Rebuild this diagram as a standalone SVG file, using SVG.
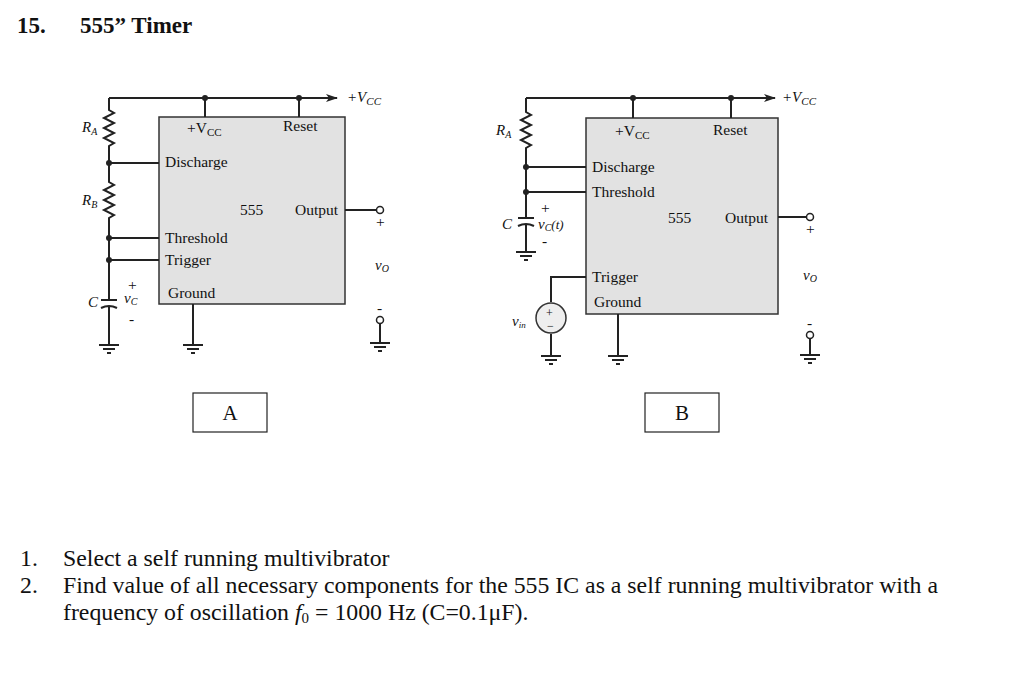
<svg xmlns="http://www.w3.org/2000/svg" width="1024" height="691" viewBox="0 0 1024 691">
<style>
text{font-family:"Liberation Serif",serif;fill:#111}
.w{stroke:#222;stroke-width:2;fill:none}
.box{fill:#e2e2e2;stroke:#333;stroke-width:1.5}
.l{font-size:15.5px}
.i{font-style:italic;font-size:15px}
.t{font-size:23.8px}
</style>
<defs>
<marker id="ar" markerWidth="12" markerHeight="8" refX="11" refY="4" orient="auto" markerUnits="userSpaceOnUse"><path d="M0,0L12,4L0,8L3,4z" fill="#222"/></marker>
<g id="gnd"><path class="w" d="M-10,0H10M-6,4H6M-2,8H2"/></g>
</defs>
<rect width="1024" height="691" fill="#fff"/>
<text x="17" y="33" font-weight="bold" font-size="23">15.</text>
<text x="80" y="33" font-weight="bold" font-size="23">555” Timer</text>

<g id="circuitA">
<rect class="box" x="159" y="117" width="186" height="187"/>
<g class="w">
<path d="M109,98H337" marker-end="url(#ar)"/>
<path d="M205,98V117M299,98V117"/>
<path d="M109,98V110l5,3l-10,5l10,5l-10,5l10,5l-10,5l10,5l-5,3V182l5,3l-10,5l10,5l-10,5l10,5l-10,5l10,5l-5,3V300"/>
<path d="M109,163H159M109,238H159M109,260H159"/>
<path d="M101,300H117M101,308Q109,304 117,308M109,307V345"/>
<path d="M193,304V345"/>
<path d="M345,210H377M380,324V343"/>
</g>
<g fill="#222"><circle cx="205" cy="98" r="3"/><circle cx="299" cy="98" r="3"/><circle cx="109" cy="163" r="3"/><circle cx="109" cy="238" r="3"/><circle cx="109" cy="260" r="3"/></g>
<circle cx="380" cy="210" r="3.5" fill="#fff" stroke="#222" stroke-width="1.5"/>
<circle cx="380" cy="320" r="3.5" fill="#fff" stroke="#222" stroke-width="1.5"/>
<use href="#gnd" x="109" y="345"/><use href="#gnd" x="193" y="345"/><use href="#gnd" x="380" y="343"/>
<text x="347" y="102" class="i">+V<tspan font-size="11" dy="3">CC</tspan></text>
<text x="187" y="133" class="l">+V<tspan font-size="11" dy="3">CC</tspan></text>
<text x="283" y="131" class="l">Reset</text>
<text x="165" y="167" class="l">Discharge</text>
<text x="240" y="215" class="l">555</text>
<text x="295" y="215" class="l">Output</text>
<text x="165" y="243" class="l">Threshold</text>
<text x="165" y="265" class="l">Trigger</text>
<text x="168" y="298" class="l">Ground</text>
<text x="82" y="132" class="i">R<tspan font-size="10" dy="3">A</tspan></text>
<text x="82" y="205" class="i">R<tspan font-size="10" dy="3">B</tspan></text>
<text x="88" y="307" class="i">C</text>
<text x="124" y="303" class="i">v<tspan font-size="10" dy="2">C</tspan></text>
<text x="128" y="290" class="l">+</text>
<text x="129" y="324" class="l">-</text>
<text x="376" y="227" class="l">+</text>
<text x="375" y="270" class="i">v<tspan font-size="10" dy="2">O</tspan></text>
<text x="377" y="313" class="l">-</text>
</g>

<g id="circuitB">
<rect class="box" x="586" y="118" width="192" height="196"/>
<g class="w">
<path d="M526,98H775" marker-end="url(#ar)"/>
<path d="M633,98V118M731,98V118"/>
<path d="M526,98V112l5,3l-10,5l10,5l-10,5l10,5l-10,5l10,5l-5,3V218"/>
<path d="M526,167H586M526,192H586"/>
<path d="M518,218H534M518,226Q526,222 534,226M526,225V252"/>
<path d="M586,277H551V302M551,334V356"/>
<path d="M618,314V356"/>
<path d="M778,217H807M810,339V355"/>
</g>
<circle cx="551" cy="318" r="15" fill="#eee" stroke="#333" stroke-width="1.5"/>
<text x="546" y="317" font-size="12">+</text><text x="547" y="330" font-size="12">−</text>
<g fill="#222"><circle cx="633" cy="98" r="3"/><circle cx="731" cy="98" r="3"/><circle cx="526" cy="167" r="3"/><circle cx="526" cy="192" r="3"/></g>
<circle cx="810" cy="217" r="3.5" fill="#fff" stroke="#222" stroke-width="1.5"/>
<circle cx="810" cy="335" r="3.5" fill="#fff" stroke="#222" stroke-width="1.5"/>
<use href="#gnd" x="526" y="252"/><use href="#gnd" x="551" y="356"/><use href="#gnd" x="618" y="356"/><use href="#gnd" x="810" y="355"/>
<text x="782" y="102" class="i">+V<tspan font-size="11" dy="3">CC</tspan></text>
<text x="615" y="136" class="l">+V<tspan font-size="11" dy="3">CC</tspan></text>
<text x="713" y="135" class="l">Reset</text>
<text x="592" y="172" class="l">Discharge</text>
<text x="592" y="197" class="l">Threshold</text>
<text x="668" y="223" class="l">555</text>
<text x="725" y="223" class="l">Output</text>
<text x="592" y="282" class="l">Trigger</text>
<text x="594" y="307" class="l">Ground</text>
<text x="496" y="135" class="i">R<tspan font-size="10" dy="3">A</tspan></text>
<text x="502" y="229" class="i">C</text>
<text x="538" y="229" class="i">v<tspan font-size="10" dy="2">C</tspan><tspan dy="-2" font-size="13">(t)</tspan></text>
<text x="541" y="213" class="l">+</text>
<text x="542" y="246" class="l">-</text>
<text x="806" y="234" class="l">+</text>
<text x="803" y="280" class="i" fill="#666">v<tspan font-size="10" dy="2">O</tspan></text>
<text x="807" y="328" class="l">-</text>
<text x="512" y="326" class="i" fill="#777" font-size="12">v<tspan font-size="9" dy="2">in</tspan></text>
</g>

<g id="labels">
<rect x="193" y="393" width="74" height="39" fill="#fff" stroke="#222" stroke-width="1.2"/>
<text x="230" y="420" font-size="21" text-anchor="middle">A</text>
<rect x="645" y="393" width="74" height="39" fill="#fff" stroke="#222" stroke-width="1.2"/>
<text x="682" y="420" font-size="21" text-anchor="middle">B</text>
</g>

<text x="20" y="566" class="t">1.</text>
<text x="63" y="566" class="t">Select a self running multivibrator</text>
<text x="20" y="593" class="t">2.</text>
<text x="63" y="593" class="t">Find value of all necessary components for the 555 IC as a self running multivibrator with a</text>
<text x="63" y="620" class="t">frequency of oscillation <tspan font-style="italic">f</tspan><tspan font-size="15" dy="3">0</tspan><tspan dy="-3"> = 1000 Hz (C=0.1μF).</tspan></text>
</svg>
